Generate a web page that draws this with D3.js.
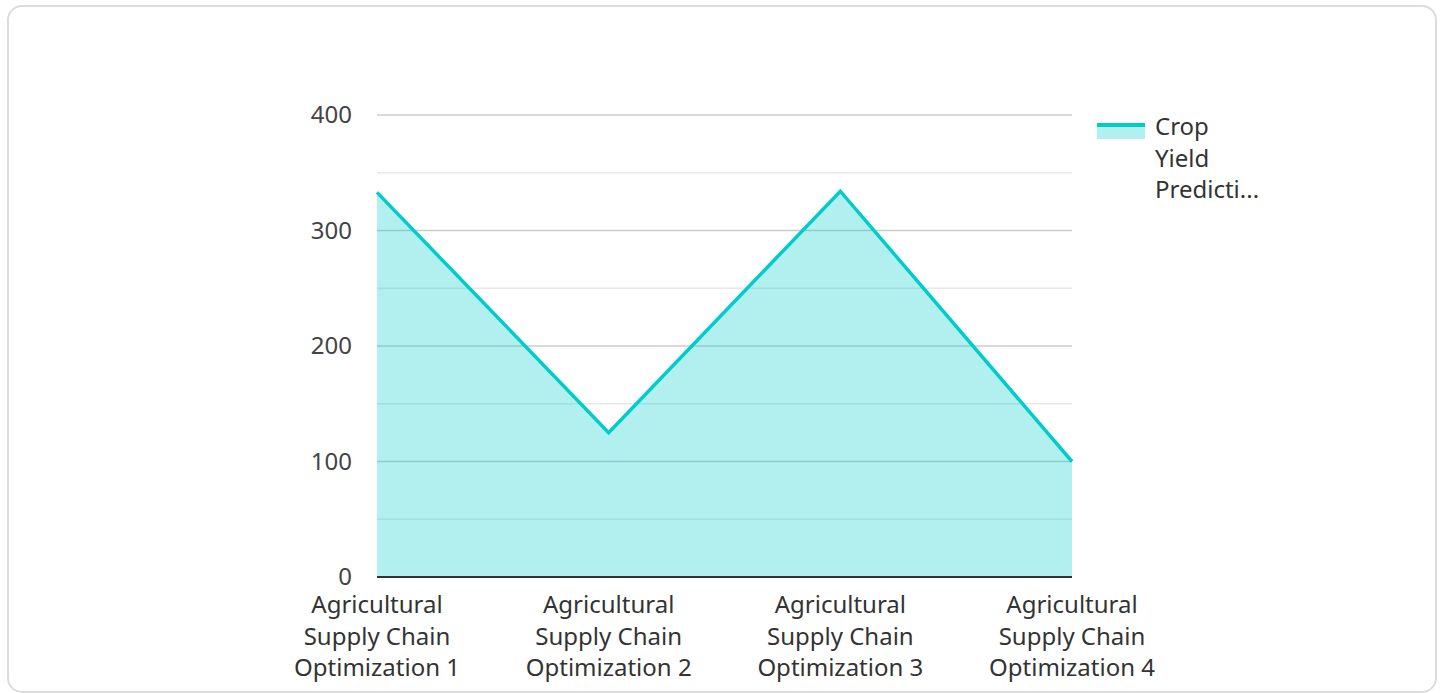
<!DOCTYPE html>
<html>
<head>
<meta charset="utf-8">
<script src="https://cdn.jsdelivr.net/npm/d3@7"></script>
<style>
  html, body { margin: 0; padding: 0; background: #fff; }
  body { width: 1444px; height: 693px; overflow: hidden; font-family: "Noto Sans", "Open Sans", sans-serif; }
</style>
</head>
<body>
<script>
// chart data
var categories = [
  "Agricultural Supply Chain Optimization 1",
  "Agricultural Supply Chain Optimization 2",
  "Agricultural Supply Chain Optimization 3",
  "Agricultural Supply Chain Optimization 4"
];
var seriesName = "Crop Yield Prediction";
var values = [333, 125, 334, 100];
var yTicks = [0, 100, 200, 300, 400];
var yMinorTicks = [50, 150, 250, 350];

var W = 1444, H = 693;
var margin = {top: 115, right: 372, bottom: 116, left: 377};

var svg = d3.select("body").append("svg")
    .attr("width", W)
    .attr("height", H);

// card border
svg.append("rect")
    .attr("x", 8).attr("y", 6)
    .attr("width", W - 16).attr("height", H - 7)
    .attr("rx", 14).attr("ry", 14)
    .attr("fill", "#fff")
    .attr("stroke", "#dcdcdc")
    .attr("stroke-width", 2);

var g = svg.append("g")
    .attr("transform", "translate(" + margin.left + "," + margin.top + ")");

var width = W - margin.left - margin.right,
    height = H - margin.top - margin.bottom;

var x = d3.scalePoint().domain(categories).range([0, width]).padding(0);
var y = d3.scaleLinear().domain([0, 400]).range([height, 0]);

// minor grid
g.selectAll("line.minor")
  .data(yMinorTicks)
  .enter().append("line")
    .attr("class", "minor")
    .attr("x1", 0).attr("x2", width)
    .attr("y1", function(d) { return y(d); })
    .attr("y2", function(d) { return y(d); })
    .attr("stroke", "#e8e8e8")
    .attr("stroke-width", 1.5);

// major grid
g.selectAll("line.major")
  .data(yTicks.slice(1))
  .enter().append("line")
    .attr("class", "major")
    .attr("x1", 0).attr("x2", width)
    .attr("y1", function(d) { return y(d); })
    .attr("y2", function(d) { return y(d); })
    .attr("stroke", "#cccccc")
    .attr("stroke-width", 1.5);

// area + line
var area = d3.area()
    .x(function(d, i) { return x(categories[i]); })
    .y0(y(0))
    .y1(function(d) { return y(d); });

var line = d3.line()
    .x(function(d, i) { return x(categories[i]); })
    .y(function(d) { return y(d); });

g.append("path")
    .datum(values)
    .attr("d", area)
    .attr("fill", "#00c9c9")
    .attr("fill-opacity", 0.3);

g.append("path")
    .datum(values)
    .attr("d", line)
    .attr("fill", "none")
    .attr("stroke", "#00cccc")
    .attr("stroke-width", 3.5)
    .attr("stroke-linejoin", "miter");

// baseline
g.append("line")
    .attr("x1", 0).attr("x2", width)
    .attr("y1", y(0)).attr("y2", y(0))
    .attr("stroke", "#333")
    .attr("stroke-width", 2);

// y tick labels
g.selectAll("text.ytick")
  .data(yTicks)
  .enter().append("text")
    .attr("class", "ytick")
    .attr("x", -25)
    .attr("y", function(d) { return y(d); })
    .attr("dy", "0.35em")
    .attr("text-anchor", "end")
    .attr("fill", "#444")
    .style("font-size", "24px")
    .text(function(d) { return d; });

// x labels, wrapped into three lines
function splitLabel(s) {
  var w = s.split(" ");
  return [w[0], w[1] + " " + w[2], w[3] + " " + w[4]];
}

var xl = g.selectAll("text.xtick")
  .data(categories)
  .enter().append("text")
    .attr("class", "xtick")
    .attr("text-anchor", "middle")
    .attr("fill", "#333")
    .style("font-size", "24px")
    .attr("transform", function(d) { return "translate(" + x(d) + "," + (height + 36) + ")"; });

xl.selectAll("tspan")
  .data(function(d) { return splitLabel(d); })
  .enter().append("tspan")
    .attr("x", 0)
    .attr("y", function(d, i) { return i * 31.5; })
    .text(function(d) { return d; });

// legend
var lg = svg.append("g").attr("transform", "translate(1097,123)");
lg.append("rect")
    .attr("x", 0).attr("y", 0)
    .attr("width", 48).attr("height", 16)
    .attr("fill", "#00c9c9").attr("fill-opacity", 0.3);
lg.append("line")
    .attr("x1", 0).attr("x2", 48)
    .attr("y1", 2).attr("y2", 2)
    .attr("stroke", "#00cccc").attr("stroke-width", 4);

var legendLines = ["Crop", "Yield", "Predicti..."];
lg.append("text")
    .attr("fill", "#333")
    .style("font-size", "24px")
    .selectAll("tspan")
    .data(legendLines)
    .enter().append("tspan")
      .attr("x", 58)
      .attr("y", function(d, i) { return 12 + i * 31.5; })
      .text(function(d) { return d; });
</script>
</body>
</html>
